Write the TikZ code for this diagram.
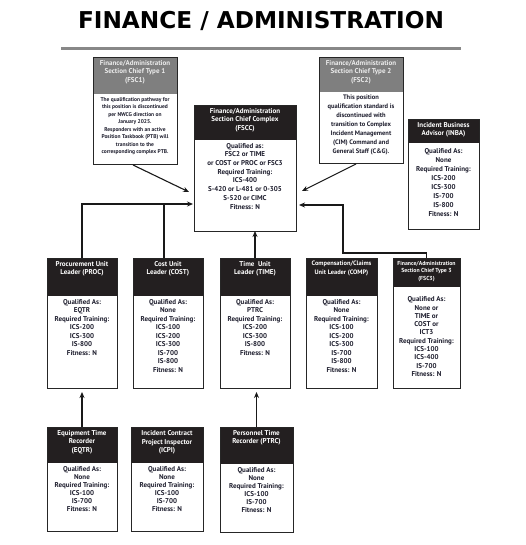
\documentclass[tikz,border=0pt]{standalone}
\usepackage{fontspec}
\setmainfont{PT Sans}
\newfontfamily\titlefont{DejaVu Sans}
\usetikzlibrary{calc,arrows.meta}
\definecolor{hdrblack}{HTML}{231F20}
\definecolor{hdrgray}{HTML}{7F7F7F}
\definecolor{hdrgraytext}{HTML}{ECECEC}
\definecolor{bodyink}{HTML}{1E1E2E}
\definecolor{ruleg}{HTML}{888888}
\tikzset{
  boxframe/.style={draw=black!85, line width=0.9pt},
  hdrfill/.style={fill=hdrblack},
  hdrtext/.style={text=white, font=\bfseries\fontsize{7}{8.8}\selectfont, align=center, inner sep=0pt, anchor=north},
  bodytext/.style={text=bodyink, font=\bfseries\fontsize{7}{8.5}\selectfont, align=center, inner sep=0pt, anchor=north},
  grayhdr/.style={hdrfill/.style={fill=hdrgray}, hdrtext/.append style={text=hdrgraytext}},
  conn/.style={line width=1.1pt, draw=black!90},
  arr/.style={conn, -{Stealth[length=6pt,width=5pt]}},
  titletext/.style={font=\titlefont\bfseries\fontsize{23.2}{26}\selectfont, inner sep=0pt, anchor=base}
}
% name, x, y, width, header height, total height, options, header, body
\newcommand\orgbox[9]{%
  \node[inner sep=0pt, outer sep=0pt, minimum width=#4pt, minimum height=#6pt, anchor=north west] (#1) at (#2,#3) {};
  \begin{scope}[#7]
    \fill[white] (#2,#3) rectangle ++(#4,#6);
    \fill[hdrfill] (#2,#3) rectangle ++(#4,#5);
    \draw[boxframe] (#2,#3) rectangle ++(#4,#6);
    \node[hdrtext] (#1-h) at ($(#1.north)+(0,3)$) {#8};
    \node[bodytext] (#1-b) at ($(#1.north)+(0,#5+3)$) {#9};
  \end{scope}
}
\begin{document}
\begin{tikzpicture}[x=1pt,y=-1pt]
\useasboundingbox (0,0) rectangle (526,545);
\fill[white] (0,0) rectangle (526,545);
\node[titletext] (title) at (261,29) {FINANCE / ADMINISTRATION};
\draw[ruleg, line width=3pt] (61,48.5) -- (461,48.5);

\orgbox{fsc1}{93}{57}{84}{37}{107}{grayhdr, bodytext/.append style={font=\bfseries\fontsize{5.5}{7.5}\selectfont}}
  {Finance/Administration\\Section Chief Type 1\\(FSC1)}
  {The qualification pathway for\\this position is discontinued\\per NWCG direction on\\January 2025.\\Responders with an active\\Position Taskbook (PTB) will\\transition to the\\corresponding complex PTB.}
\orgbox{fsc2}{319}{57}{84}{35}{106}{grayhdr, bodytext/.append style={font=\bfseries\fontsize{6.5}{9}\selectfont}}
  {Finance/Administration\\Section Chief Type 2\\(FSC2)}
  {This position\\qualification standard is\\discontinued with\\transition to Complex\\Incident Management\\(CIM) Command and\\General Staff (C\&G).}
\orgbox{fscc}{194}{105}{102}{35}{126}{bodytext/.append style={font=\bfseries\fontsize{7}{8.7}\selectfont}}
  {Finance/Administration\\Section Chief Complex\\(FSCC)}
  {Qualified as:\\FSC2 or TIME\\or COST or PROC or FSC3\\Required Training:\\ICS-400\\S-420 or L-481 or 0-305\\S-520 or CIMC\\Fitness: N}
\orgbox{inba}{408}{119}{71}{24}{110}{bodytext/.append style={yshift=-2pt, font=\bfseries\fontsize{7}{9}\selectfont}}
  {Incident Business\\Advisor (INBA)}
  {Qualified As:\\None\\Required Training:\\ICS-200\\ICS-300\\IS-700\\IS-800\\Fitness: N}

\orgbox{proc}{47}{258}{70}{38}{130}{}
  {Procurement Unit\\Leader (PROC)}
  {Qualified As:\\EQTR\\Required Training:\\ICS-200\\ICS-300\\IS-800\\Fitness: N}
\orgbox{cost}{133}{258}{70}{38}{130}{}
  {Cost Unit\\Leader (COST)}
  {Qualified As:\\None\\Required Training:\\ICS-100\\ICS-200\\ICS-300\\IS-700\\IS-800\\Fitness: N}
\orgbox{time}{220}{258}{70}{38}{130}{}
  {Time\ \ Unit\\Leader (TIME)}
  {Qualified As:\\PTRC\\Required Training:\\ICS-200\\ICS-300\\IS-800\\Fitness: N}
\orgbox{comp}{306}{258}{71}{38}{130}{hdrtext/.append style={font=\bfseries\fontsize{6.4}{8.4}\selectfont}}
  {Compensation/Claims\\Unit Leader (COMP)}
  {Qualified As:\\None\\Required Training:\\ICS-100\\ICS-200\\ICS-300\\IS-700\\IS-800\\Fitness: N}
\orgbox{fsc3}{393}{258}{67}{29}{130}{hdrtext/.append style={font=\bfseries\fontsize{5.8}{7.6}\selectfont}, bodytext/.append style={yshift=-6.5pt, font=\bfseries\fontsize{7}{8.3}\selectfont}}
  {Finance/Administration\\Section Chief Type 3\\(FSC3)}
  {Qualified As:\\None or\\TIME or\\COST or\\ICT3\\Required Training:\\ICS-100\\ICS-400\\IS-700\\Fitness: N}

\orgbox{eqtr}{47}{427}{70}{36}{104}{bodytext/.append style={font=\bfseries\fontsize{7}{8}\selectfont}}
  {Equipment Time\\Recorder\\(EQTR)}
  {Qualified As:\\None\\Required Training:\\ICS-100\\IS-700\\Fitness: N}
\orgbox{icpi}{131}{427}{72}{36}{104}{bodytext/.append style={font=\bfseries\fontsize{7}{8}\selectfont}}
  {Incident Contract\\Project Inspector\\(ICPI)}
  {Qualified As:\\None\\Required Training:\\ICS-100\\IS-700\\Fitness: N}
\orgbox{ptrc}{220}{427}{73}{37}{105}{bodytext/.append style={font=\bfseries\fontsize{7}{8}\selectfont}}
  {Personnel Time\\Recorder (PTRC)}
  {Qualified As:\\None\\Required Training:\\ICS-100\\IS-700\\Fitness: N}

% connectors
\draw[arr] ($(fsc1.south)+(-2,1)$) -- ($(fscc.north west)+(-5,87)$);
\draw[arr] ($(fsc2.south)+(-5,1)$) -- ($(fscc.north east)+(6,86)$);
\draw[arr] (proc.north) |- ($(fscc.north west)+(-1,99)$);
\draw[conn] ($(cost.north)+(-4,0)$) -- ($(cost.north)+(-4,-54)$);
\draw[arr] (time.north) -- (time.north |- fscc.south);
\coordinate (bend) at (343,253);
\draw[arr] (fsc3.north) |- (bend) |- ($(fscc.north east)+(3,100)$);
\draw[arr, shorten >=4pt] (eqtr.north) -- (proc.south);
\draw[arr, shorten >=4pt] (ptrc.north) -- (ptrc.north |- time.south);
\end{tikzpicture}
\end{document}
